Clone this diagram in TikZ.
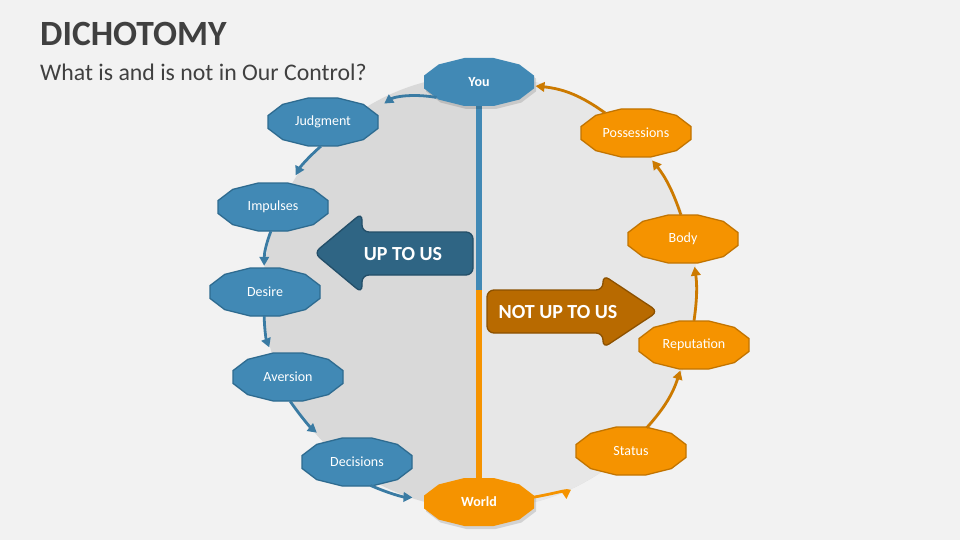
\documentclass[tikz,border=0pt]{standalone}
\usepackage{fontspec}
\setmainfont{Carlito}
\usetikzlibrary{arrows.meta,shapes.geometric}
\definecolor{bgc}{HTML}{F2F2F2}
\definecolor{lgray}{HTML}{D9D9D9}
\definecolor{rgray}{HTML}{E7E7E7}
\definecolor{bfill}{HTML}{4189B5}
\definecolor{bdraw}{HTML}{2E6B90}
\definecolor{bcon}{HTML}{3A7BA3}
\definecolor{ofill}{HTML}{F59300}
\definecolor{odraw}{HTML}{C27400}
\definecolor{ocon}{HTML}{CC7A00}
\definecolor{upfill}{HTML}{2F6584}
\definecolor{updraw}{HTML}{234E68}
\definecolor{nufill}{HTML}{B86A00}
\definecolor{nudraw}{HTML}{8C5100}
\definecolor{titlec}{HTML}{404040}
\tikzset{
  bnode/.style={fill=bfill, draw=bdraw, line width=1.3pt},
  onode/.style={fill=ofill, draw=odraw, line width=1.3pt},
  bhub/.style={fill=bfill},
  ohub/.style={fill=ofill},
  shadowpath/.style={fill=black, opacity=0.13},
  nodetext/.style={ellipse, minimum width=110pt, minimum height=48pt, inner sep=0pt,
    text=white, font=\fontsize{14}{16}\selectfont},
  bc/.style={draw=bcon, line width=2.8pt, -{Triangle[length=9pt,width=9.5pt]}},
  oc/.style={draw=ocon, line width=2.8pt, -{Triangle[length=9pt,width=9.5pt]}},
  bigarrowtext/.style={text=white, font=\bfseries\fontsize{20}{24}\selectfont},
}
\newcommand\dodecshape[3]{%
  \path[#3, shift={(#1,#2)}] (-55,-6.4) -- (-40.3,-17.6) -- (-14.7,-24) -- (14.7,-24) -- (40.3,-17.6) -- (55,-6.4) -- (55,6.4) -- (40.3,17.6) -- (14.7,24) -- (-14.7,24) -- (-40.3,17.6) -- (-55,6.4) -- cycle;}
\newcommand\dnode[5]{%
  \dodecshape{#2}{#3}{#4}%
  \node[nodetext] (#1) at (#2,#3) {#5};}
\begin{document}
\begin{tikzpicture}[x=1pt,y=-1pt]
\useasboundingbox (0,0) rectangle (960,540);
\fill[bgc] (0,0) rectangle (960,540);
% half discs
\fill[lgray] (480,292) circle[radius=217pt];
\begin{scope}
  \clip (479,0) rectangle (960,540);
  \fill[rgray] (480,292) circle[radius=217pt];
\end{scope}
% vertical divider
\coordinate (ytop) at (479,100);
\coordinate (mid) at (479,290);
\coordinate (wbot) at (479,485);
\draw[bfill, line width=6pt] (ytop) -- (mid);
\draw[ofill, line width=6pt] (mid) -- (wbot);
% big arrows
\filldraw[fill=upfill, draw=updraw, line width=1.3pt, rounded corners=7pt]
  (314,253) -- (362,213) -- (362,232) -- (473,232) -- (473,275) -- (362,275) -- (362,293) -- cycle;
\node[bigarrowtext] (up) at (403,254) {UP TO US};
\filldraw[fill=nufill, draw=nudraw, line width=1.3pt, rounded corners=7pt]
  (487,290) -- (603,290) -- (603,275) -- (658,311.5) -- (603,348) -- (603,333) -- (487,333) -- cycle;
\node[bigarrowtext] (notup) at (558,312) {NOT UP TO US};
% hub nodes with shadow
\dodecshape{481}{85}{shadowpath}
\dnode{you}{479}{82}{bhub}{\textbf{You}}
\dodecshape{481}{505}{shadowpath}
\dnode{world}{479}{502}{ohub}{\textbf{World}}
% left nodes
\dnode{judg}{323}{122}{bnode}{Judgment}
\dnode{imp}{273}{207}{bnode}{Impulses}
\dnode{des}{265}{292}{bnode}{Desire}
\dnode{av}{288}{377}{bnode}{Aversion}
\dnode{dec}{357}{462}{bnode}{Decisions}
% right nodes
\dnode{poss}{636}{133}{onode}{Possessions}
\dnode{body}{683}{239}{onode}{Body}
\dnode{rep}{694}{345}{onode}{Reputation}
\dnode{stat}{631}{451}{onode}{Status}
% connectors
\draw[bc, shorten >=14pt] (you.200) to[bend right=22] (judg.12);
\draw[bc, shorten >=10pt] (judg.265) to[bend right=10] (imp.52);
\draw[bc, shorten >=2pt] (imp.265) to[bend right=10] (des.92);
\draw[bc, shorten >=7pt] (des.268) to[bend right=10] (av.125);
\draw[bc, shorten >=14pt] (av.275) to[bend right=8] (dec.145);
\draw[bc, shorten >=12pt] (dec.300) to[bend right=10] (world.176);
\draw[oc, draw=ofill, shorten >=34pt] (world.5) to[bend right=12] (stat.212);
\draw[oc, shorten >=2pt] (stat.56) to[bend right=12] (rep.241);
\draw[oc, shorten >=4pt] (rep.90) to[bend right=8] (body.295);
\draw[oc, shorten >=5pt] (body.95) to[bend right=10] (poss.299);
\draw[oc, shorten >=2pt] (poss.147) to[bend right=15] (you.356);
% titles
\node[anchor=base west, inner sep=0pt, text=titlec, font=\bfseries\fontsize{35.5}{40}\selectfont] (title) at (40,46) {DICHOTOMY};
\node[anchor=base west, inner sep=0pt, text=titlec, font=\fontsize{23.8}{28}\selectfont] (sub) at (40,81) {What is and is not in Our Control?};
\end{tikzpicture}
\end{document}
